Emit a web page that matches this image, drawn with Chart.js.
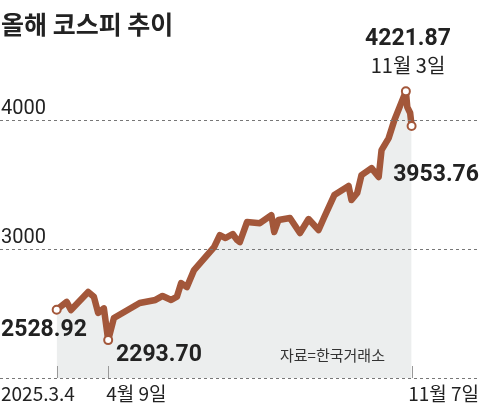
<!DOCTYPE html>
<html><head><meta charset="utf-8">
<script src="https://cdn.jsdelivr.net/npm/chart.js@4"></script>
<style>html,body{margin:0;padding:0;background:#fff}#wrap{width:480px;height:411px;position:relative}</style>
</head><body><div id="wrap"><canvas id="c"></canvas></div>
<script>
// KOSPI 2025.3.4 ~ 11.7 (x = days since 3/4)
const days = [0,7,10,22,26,29,33,36,40,58,69,74,80,84,87,91,96,110,114,118,123,126,128,133,142,150,152,155,163,170,176,183,187,194,204,206,210,213,220,225,227,232,236,244,245,247,248];
const kospi = [2528.92,2590,2527,2667,2630,2504,2540,2293.70,2465,2581,2605,2636,2605,2630,2736,2705,2837,3015,3108,3085,3116,3070,3054,3209,3200,3263,3132,3225,3240,3124,3232,3147,3248,3418,3488,3380,3434,3573,3627,3558,3767,3860,4000,4221.87,4100,4054,3953.76];
const yTicks = [3000, 4000];
const xLabels = [[0, '2025.3.4'], [36, '4월 9일'], [248, '11월 7일']];
const marked = [0, 7, 43, 46];

const NUM = '"Liberation Sans Narrow","Roboto","Noto Sans CJK KR",sans-serif';
const KR = '"Liberation Sans Narrow","Noto Sans CJK KR",sans-serif';
const BROWN = '#a3573a';

const deco = {
  id: 'deco',
  afterDraw(chart) {
    const { ctx, scales: { x, y } } = chart;
    ctx.save();
    // dashed grid
    ctx.strokeStyle = '#777'; ctx.lineWidth = 1; ctx.setLineDash([3, 3]);
    [...yTicks, 2000].forEach(v => {
      const py = Math.round(y.getPixelForValue(v)) + 0.5;
      ctx.beginPath(); ctx.moveTo(0, py); ctx.lineTo(480, py); ctx.stroke();
    });
    ctx.setLineDash([]);
    const base = y.getPixelForValue(2000);
    ctx.strokeStyle = '#999';
    [0, 36, 248].forEach(d => {
      const px = Math.round(x.getPixelForValue(d)) + 0.5;
      ctx.beginPath(); ctx.moveTo(px, base - 12); ctx.lineTo(px, base); ctx.stroke();
    });
    ctx.fillStyle = '#222'; ctx.textBaseline = 'alphabetic';
    ctx.font = '20px ' + NUM; ctx.textAlign = 'left';
    yTicks.forEach(v => ctx.fillText(String(v), 1, y.getPixelForValue(v) - 6));
    ctx.font = '19px ' + KR;
    xLabels.forEach(([d, t], i) => {
      ctx.textAlign = i === 2 ? 'right' : 'left';
      const px = i === 0 ? 1 : i === 2 ? 479 : x.getPixelForValue(d) - 2;
      ctx.fillText(t, px, 401);
    });
    // title
    ctx.textAlign = 'left'; ctx.font = 'bold 25px "Noto Sans CJK KR",sans-serif';
    ctx.fillText('올해 코스피 추이', 1, 34);
    // value labels
    ctx.font = 'bold 23px ' + NUM;
    ctx.fillText('2528.92', 1, 336);
    ctx.fillText('2293.70', 116, 361);
    ctx.textAlign = 'right'; ctx.fillText('3953.76', 479, 181);
    ctx.textAlign = 'center'; ctx.fillText('4221.87', 408, 45);
    ctx.font = '20px ' + KR; ctx.fillText('11월 3일', 408, 73);
    ctx.textAlign = 'left'; ctx.font = '15px "Noto Sans CJK KR",sans-serif'; ctx.fillStyle = '#333';
    ctx.fillText('자료=한국거래소', 280, 361);
    ctx.restore();
  }
};

new Chart(document.getElementById('c'), {
  type: 'line',
  data: {
    datasets: [{
      data: days.map((d, i) => ({ x: d, y: kospi[i] })),
      borderColor: BROWN, borderWidth: 6.5, borderJoinStyle: 'round', borderCapStyle: 'round',
      backgroundColor: '#eceeee', fill: 'start', tension: 0,
      pointRadius: days.map((d, i) => marked.includes(i) ? 4 : 0),
      pointBackgroundColor: '#fff', pointBorderColor: BROWN, pointBorderWidth: 2
    }]
  },
  options: {
    responsive: true, maintainAspectRatio: false, animation: false,
    layout: { padding: { top: 60, bottom: 33, left: 0, right: 0 } },
    plugins: { legend: { display: false }, tooltip: { enabled: false } },
    scales: {
      x: { type: 'linear', min: -35.4, max: 291.6, display: false },
      y: { min: 2000, max: 4465, display: false }
    }
  },
  plugins: [deco]
});
</script></body></html>
